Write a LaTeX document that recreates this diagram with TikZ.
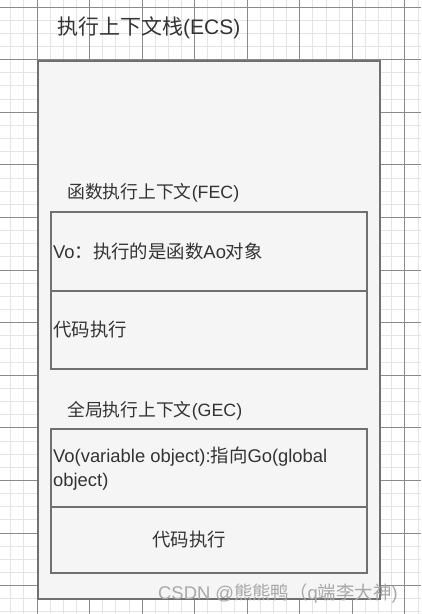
\documentclass[tikz,border=0pt]{standalone}
\usepackage{fontspec}
\setmainfont{Liberation Sans}
\newfontfamily\cjk{Noto Sans CJK SC}

\definecolor{boxfill}{HTML}{F5F5F5}
\definecolor{boxline}{HTML}{707070}
\definecolor{txtgray}{HTML}{333333}
\definecolor{gridmajor}{HTML}{8A8A8A}
\definecolor{gridminor}{HTML}{E4E4E4}
\definecolor{markgray}{HTML}{A8A8A8}

\begin{document}
\begin{tikzpicture}[x=1pt, y=-1pt,
		minorline/.style={draw=gridminor, line width=0.9pt},
		majorline/.style={draw=gridmajor, line width=0.9pt},
		ctxbox/.style={draw=boxline, fill=boxfill, line width=1.3pt},
		ctxtext/.style={text=txtgray, inner sep=0pt, anchor=west, font=\fontsize{18.4}{24}\selectfont}]
		\useasboundingbox (0,0) rectangle (421,614);
		% background grid
		\foreach \i in {-2,...,29}
			\draw[minorline] ({37+13.14*\i},0) -- ({37+13.14*\i},614);
		\foreach \j in {0,...,46}
			\draw[minorline] (0,{7+13.15*\j}) -- (421,{7+13.15*\j});
		\foreach \i in {0,...,7}
			\draw[majorline] ({37+52.55*\i},0) -- ({37+52.55*\i},614);
		\foreach \j in {0,...,11}
			\draw[majorline] (0,{7+52.6*\j}) -- (421,{7+52.6*\j});
		
		% stack
		\draw[ctxbox] (38,61) rectangle (380,599);
		\node[ctxtext, font=\fontsize{21}{24}\selectfont] (ecs) at (57,28) {{\cjk 执行上下文栈}(ECS)};
		
		% function context
		\node[ctxtext, font=\fontsize{17.8}{22}\selectfont] (fec) at (67,193) {{\cjk 函数执行上下文}(FEC)};
		\draw[ctxbox] (51,212) rectangle (367,369);
		\draw[ctxbox] (51,291) -- (367,291);
		\node[ctxtext] (fecvo) at (53,251) {Vo{\cjk ：执行的是函数}Ao{\cjk 对象}};
		\node[ctxtext] (feccode) at (53,330) {\cjk 代码执行};
		
		% global context
		\node[ctxtext, font=\fontsize{17.8}{22}\selectfont] (gec) at (67,411) {{\cjk 全局执行上下文}(GEC)};
		\draw[ctxbox] (51,429) rectangle (367,573);
		\draw[ctxbox] (51,507) -- (367,507);
		\node[ctxtext, align=left] (gecvo) at (53,469) {Vo(variable object):{\cjk 指向}Go(global\\object)};
		\node[ctxtext, anchor=center] (geccode) at (189,540) {\cjk 代码执行};
		
		\node[ctxtext, text=markgray] (mark) at (158,594) {CSDN @{\cjk 熊熊鸭（}q{\cjk 端李大神})};
\end{tikzpicture}
\end{document}
